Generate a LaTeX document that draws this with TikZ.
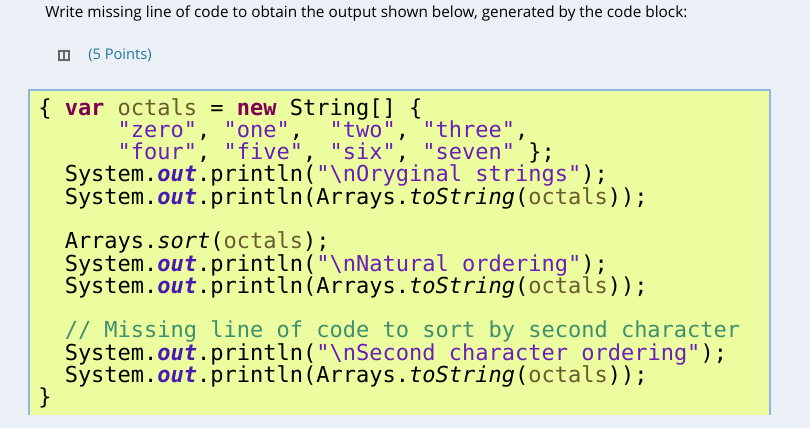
\documentclass[tikz,border=0pt]{standalone}
\usepackage{fontspec}
\setmainfont{Open Sans}
\newfontfamily\code{DejaVu Sans Mono}
\definecolor{bg}{HTML}{EAF0F6}
\definecolor{panel}{HTML}{EBFD9E}
\definecolor{pborder}{HTML}{8DB5E2}
\definecolor{kw}{HTML}{7F0055}
\definecolor{str}{HTML}{6A1FB8}
\definecolor{fld}{HTML}{4A1AB0}
\definecolor{var}{HTML}{6B5A30}
\definecolor{cmt}{HTML}{3F8F6F}
\definecolor{teal}{HTML}{1F7898}
\newcommand{\K}[1]{\textcolor{kw}{\textbf{#1}}}
\newcommand{\Sx}[1]{\textcolor{str}{#1}}
\newcommand{\Ox}{\textcolor{fld}{\textbf{\textit{out}}}}
\newcommand{\Vx}{\textcolor{var}{octals}}
\newcommand{\BS}{\symbol{92}}
\begin{document}
\begin{tikzpicture}[x=0.75pt,y=-0.75pt,
  cl/.style={anchor=base west,inner sep=0pt,font=\code\fontsize{16.5}{18}\selectfont}]
\useasboundingbox (0,0) rectangle (810,428);
\fill[bg] (0,0) rectangle (810,428);
\node[anchor=base west,inner sep=0pt,font=\fontsize{11.5}{13}\selectfont] (title) at (45,18) {Write missing line of code to obtain the output shown below, generated by the code block:};
\draw[gray!80!black,line width=0.8pt] (59,51) rectangle (69,60);
\draw[gray!80!black,line width=0.8pt] (64,51) -- (64,60);
\node[anchor=base west,inner sep=0pt,text=teal,font=\fontsize{11}{13}\selectfont] (pts) at (88,60) {(5 Points)};
\draw[pborder,fill=panel,line width=1.5pt] (29,415) -- (29,90) -- (770,90) -- (770,415);
\node[cl] (l1) at (38,115) {\{ \K{var} \Vx{} = \K{new} String[] \{};
\node[cl] (l2) at (38,137.3) {\phantom{xxxxxx}\Sx{"zero"}, \Sx{"one"},\ \ \Sx{"two"}, \Sx{"three"},};
\node[cl] (l3) at (38,159.6) {\phantom{xxxxxx}\Sx{"four"}, \Sx{"five"}, \Sx{"six"}, \Sx{"seven"} \};};
\node[cl] (l4) at (38,181.9) {\phantom{xx}System.\Ox.println(\Sx{"\BS nOryginal strings"});};
\node[cl] (l5) at (38,204.2) {\phantom{xx}System.\Ox.println(Arrays.\textit{toString}(\Vx));};
\node[cl] (l6) at (38,248.8) {\phantom{xx}Arrays.\textit{sort}(\Vx);};
\node[cl] (l7) at (38,271.1) {\phantom{xx}System.\Ox.println(\Sx{"\BS nNatural ordering"});};
\node[cl] (l8) at (38,293.4) {\phantom{xx}System.\Ox.println(Arrays.\textit{toString}(\Vx));};
\node[cl,text=cmt] (l9) at (38,337.9) {\phantom{xx}// Missing line of code to sort by second character};
\node[cl] (l10) at (38,360.2) {\phantom{xx}System.\Ox.println(\Sx{"\BS nSecond character ordering"});};
\node[cl] (l11) at (38,382.5) {\phantom{xx}System.\Ox.println(Arrays.\textit{toString}(\Vx));};
\node[cl] (l12) at (38,404.8) {\}};
\end{tikzpicture}
\end{document}
